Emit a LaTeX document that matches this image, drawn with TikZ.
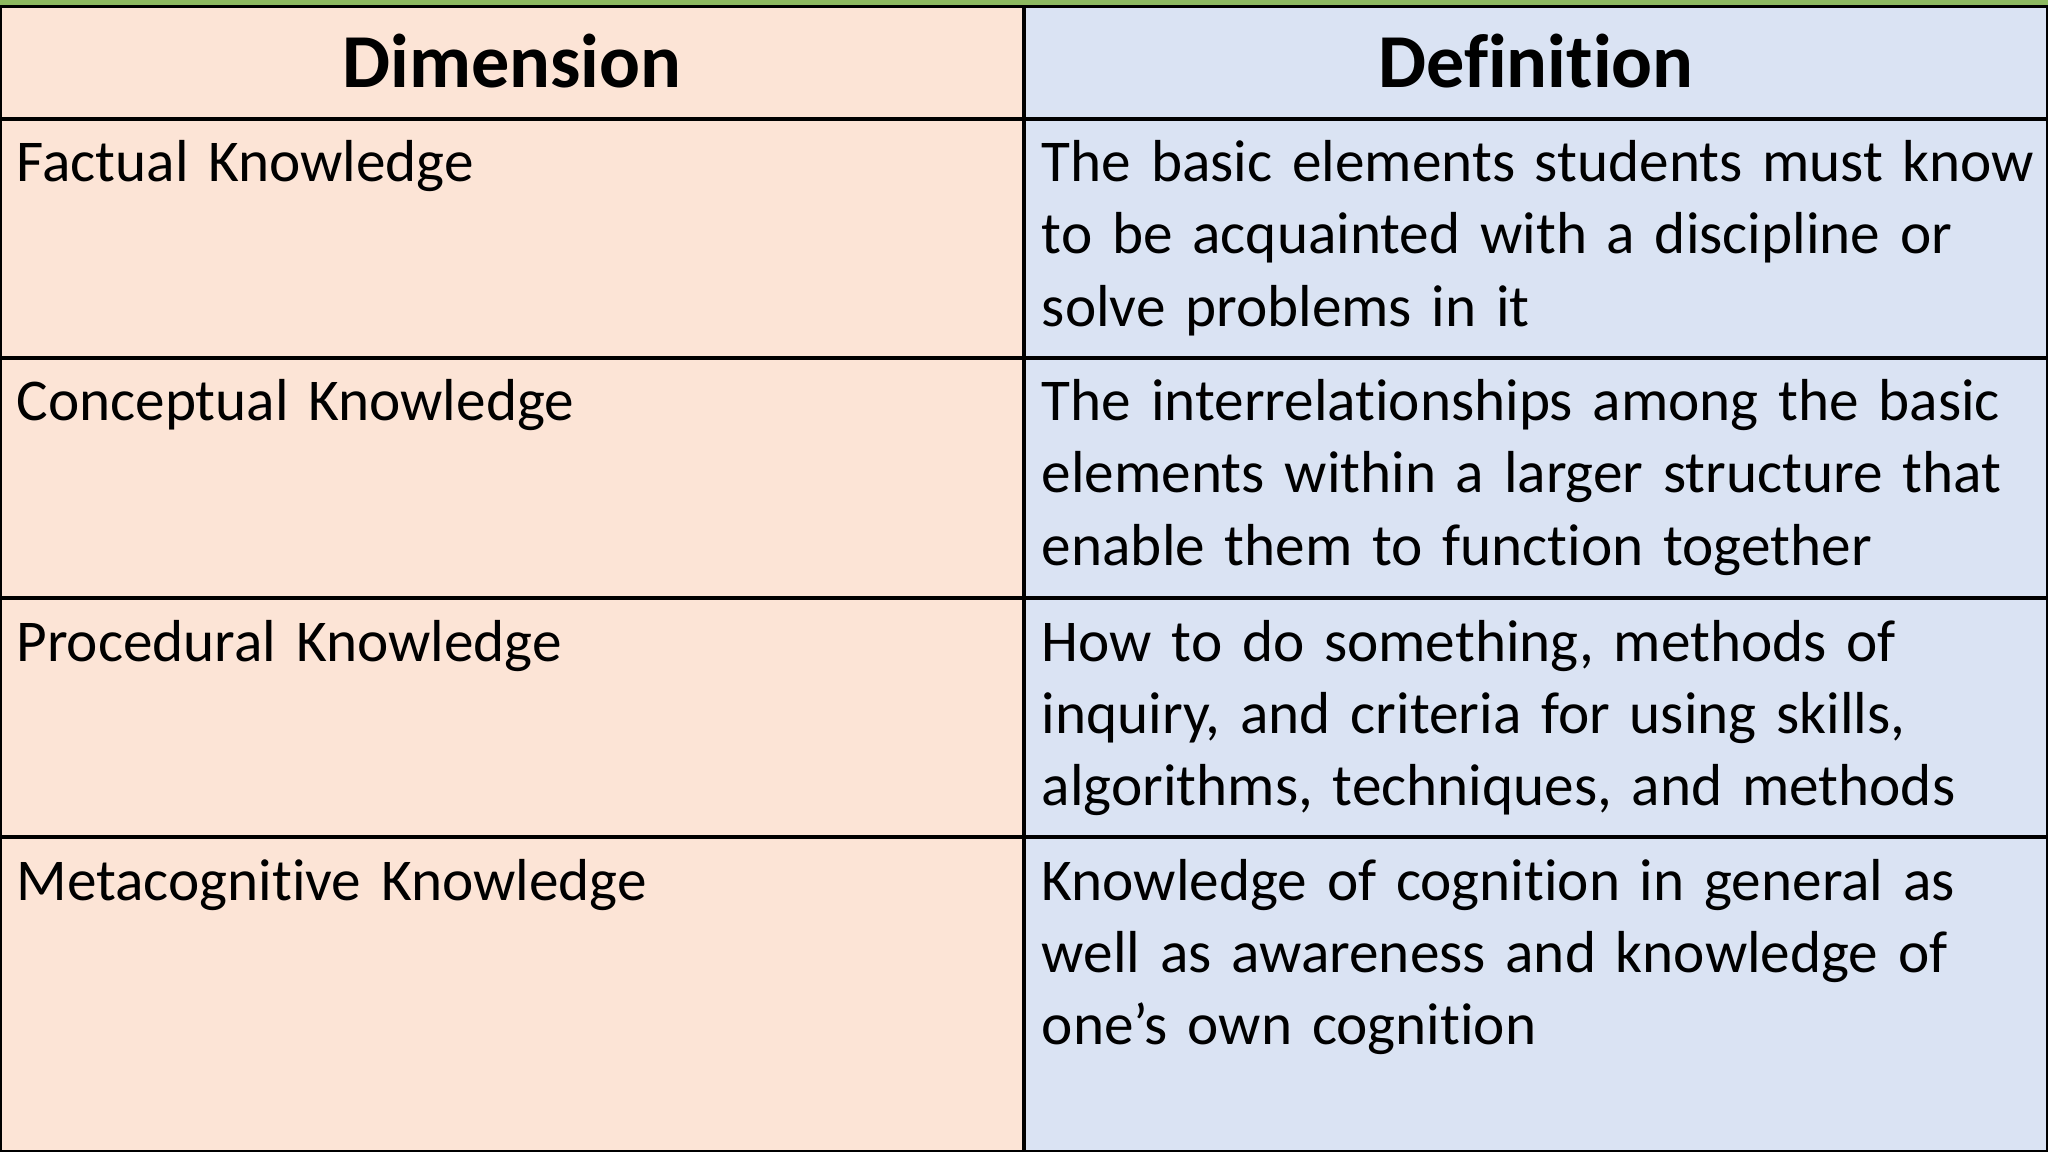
\documentclass[tikz,border=0pt]{standalone}
\usepackage{fontspec}
\setmainfont[WordSpace=0.75,RawFeature=-liga]{Carlito}
\definecolor{peach}{HTML}{FCE4D6}
\definecolor{lblue}{HTML}{DAE3F3}
\definecolor{topg}{HTML}{8DB960}
\begin{document}
\begin{tikzpicture}[x=0.01cm,y=-0.01cm,
  cell/.style={draw=black,line width=0.8pt},
  body/.style={anchor=north west,inner sep=0pt,align=left,text width=7.6cm,font=\fontsize{12.9pt}{15.7pt}\selectfont},
  head/.style={anchor=base,inner sep=0pt,font=\bfseries\fontsize{16.6pt}{19pt}\selectfont}]
\useasboundingbox (0,0) rectangle (1568,882);
\fill[topg] (0,0) rectangle (1568,5);
\foreach \a/\b in {5/91,91/274,274/458,458/641,641/882}{
  \filldraw[cell,fill=peach] (0,\a) rectangle (784,\b);
  \filldraw[cell,fill=lblue] (784,\a) rectangle (1568,\b);
}
\node[head] (h1) at (392,67) {Dimension};
\node[head] (h2) at (1176,67) {Definition};
\node[body] (d1) at (12,107) {Factual Knowledge};
\node[body] (d2) at (12,290) {Conceptual Knowledge};
\node[body] (d3) at (12,474) {Procedural Knowledge};
\node[body] (d4) at (12,657) {Metacognitive Knowledge};
\node[body] (f1) at (797,107) {The basic elements students must know\\to be acquainted with a discipline or\\solve problems in it};
\node[body] (f2) at (797,290) {The interrelationships among the basic\\elements within a larger structure that\\enable them to function together};
\node[body] (f3) at (797,474) {How to do something, methods of\\inquiry, and criteria for using skills,\\algorithms, techniques, and methods};
\node[body] (f4) at (797,657) {Knowledge of cognition in general as\\well as awareness and knowledge of\\one’s own cognition};
\end{tikzpicture}
\end{document}
